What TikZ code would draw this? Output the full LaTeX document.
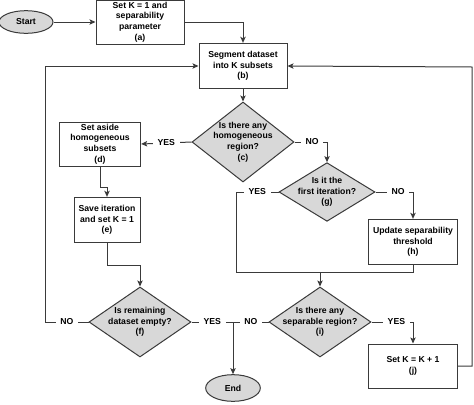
\documentclass[tikz,border=0pt]{standalone}
\usepackage{fontspec}
\setmainfont{Liberation Sans}
\usepackage{tikz}
\usetikzlibrary{calc}
\usetikzlibrary{shapes.geometric,arrows.meta}
\definecolor{shapegray}{HTML}{D8D8D8}
\definecolor{linegray}{HTML}{3A3A3A}
\tikzset{
    txt/.style={font=\fontsize{6.5}{8}\selectfont\bfseries, align=center, text=black},
    proc/.style={txt, rectangle, draw=linegray, line width=0.75pt, fill=white, inner sep=1pt},
    decide/.style={diamond, draw=linegray, line width=0.75pt, fill=shapegray, inner sep=0pt, aspect=1},
    term/.style={txt, ellipse, draw=linegray, line width=0.75pt, fill=shapegray, inner sep=0pt},
    lbl/.style={txt, fill=white, inner sep=3.5pt},
    flow/.style={draw=linegray, line width=0.75pt, -{Stealth[length=4.5pt,width=4pt,inset=1pt]}},
    line/.style={draw=linegray, line width=0.75pt}
}

\begin{document}
\begin{tikzpicture}[x=0.75pt,y=-0.75pt]
\useasboundingbox (0,0) rectangle (474,404);
\coordinate (loopL) at (45,67);
\coordinate (loopR) at (472,67);
\coordinate (gyes) at (236,192);
\coordinate (merge) at (320,272);

\node[term, minimum width=40.5pt, minimum height=17pt] (start) at (26,22) {Start};
\node[proc, minimum width=66pt, minimum height=33pt] (a) at (140,22) {Set K = 1 and\\separability\\parameter\\(a)};
\node[proc, minimum width=66pt, minimum height=34pt] (b) at (243,66) {Segment dataset\\into K subsets\\(b)};
\node[decide, minimum width=76.5pt, minimum height=60pt, label={[txt]center:{Is there any\\homogeneous\\region?\\(c)}}] (c) at (243,142) {};
\node[proc, minimum width=61pt, minimum height=33pt] (d) at (100,144) {Set aside\\homogeneous\\subsets\\(d)};
\node[proc, minimum width=49.5pt, minimum height=34pt] (e) at (107,220) {Save iteration\\and set K = 1\\(e)};
\node[decide, minimum width=76.5pt, minimum height=52.5pt, label={[txt]center:{Is remaining\\dataset empty?\\(f)}}] (f) at (140,322) {};
\node[decide, minimum width=72pt, minimum height=44pt, label={[txt]center:{Is it the\\first iteration?\\(g)}}] (g) at (327,192) {};
\node[proc, minimum width=67pt, minimum height=34pt] (h) at (413,242) {Update separability\\threshold\\(h)};
\node[decide, minimum width=76.5pt, minimum height=52.5pt, label={[txt]center:{Is there any\\separable region?\\(i)}}] (i) at (320,322) {};
\node[proc, minimum width=67pt, minimum height=33pt] (j) at (413,366) {Set K = K + 1\\(j)};
\node[term, minimum width=41pt, minimum height=20pt] (end) at (233,388) {End};

\draw[flow] (start.east) -- (a.west);
\draw[flow] (a.east) -| (b.north);
\draw[flow] (b.south) -- (c.north);
\draw[flow] (c.west) -- node[lbl]{YES} (d.east);
\draw[flow] (c.east) -| node[lbl,pos=0.27]{NO} (g.north);
\draw[flow] (d.south) -- ++(0,21) -| (e.north);
\draw[flow] (e.south) -- ++(0,22) -| (f.north);
\draw[flow] (f.west) -- node[lbl]{NO} (f.west -| loopL) |- (b.west);
\draw[flow] (f.east) -| node[lbl,pos=0.25]{YES} (end.north);
\draw[line] (i.west) -- node[lbl]{NO} (i.west -| end.north);
\draw[flow] (g.east) -| node[lbl,pos=0.3]{NO} (h.north);
\draw[flow] (g.west) -- node[lbl]{YES} (gyes) |- (merge) -- (i.north);
\draw[line] (h.south) |- (merge);
\draw[flow] (i.east) -| node[lbl,pos=0.3]{YES} (j.north);
\draw[flow] (j.east) -| (loopR) -- (b.east);
\end{tikzpicture}
\end{document}
